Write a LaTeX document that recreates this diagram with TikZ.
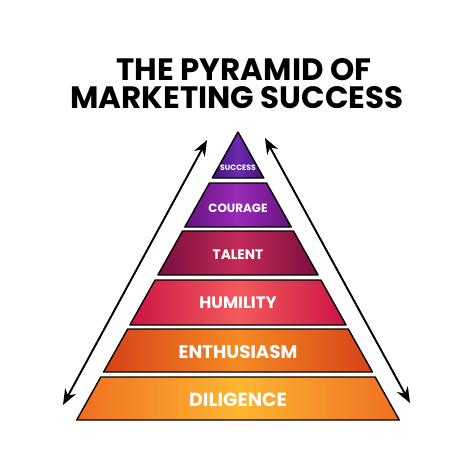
\documentclass[tikz,border=0pt]{standalone}
\usepackage{fontspec}
\setmainfont{Poppins}
\usetikzlibrary{arrows.meta,calc}
\definecolor{successout}{HTML}{3E1478}
\definecolor{successin}{HTML}{6C2AAE}
\definecolor{courageout}{HTML}{66127E}
\definecolor{couragein}{HTML}{9A2AB8}
\definecolor{talentout}{HTML}{7A0E3E}
\definecolor{talentin}{HTML}{C42A58}
\definecolor{humilityout}{HTML}{CC1446}
\definecolor{humilityin}{HTML}{F25A5C}
\definecolor{enthusiasmout}{HTML}{D6421A}
\definecolor{enthusiasmin}{HTML}{F58A22}
\definecolor{diligenceout}{HTML}{EF6E22}
\definecolor{diligencein}{HTML}{FDB630}
\tikzset{
  layer/.style={draw=black,line width=0.8pt,line join=round},
  layerlabel/.style={text=white,inner sep=0pt},
  titletext/.style={font=\bfseries\fontsize{17.6}{17.6}\selectfont,inner sep=0pt},
  pyrarrow/.style={line width=1.1pt,{Stealth[length=9pt,width=7pt]}-{Stealth[length=9pt,width=7pt]}}
}
\begin{document}
\begin{tikzpicture}[x=0.02cm,y=-0.02cm]
\useasboundingbox (0,0) rectangle (474,474);
\def\slope{0.56}
\node[titletext] (title1) at (244,70) {THE PYRAMID OF};
\node[titletext] (title2) at (237,98) {MARKETING SUCCESS};
% layers, top to bottom
\foreach \ytop/\ybot/\nm/\lbl/\fs/\ly in {132/178/success/SUCCESS/4.4/168,183/227/courage/COURAGE/6.8/208,231/275/talent/TALENT/7.8/255,280/325/humility/HUMILITY/9.4/303,329/372/enthusiasm/ENTHUSIASM/10.4/352,377/420/diligence/DILIGENCE/10.8/400} {
  \pgfmathsetmacro\wt{\slope*(\ytop-132)}
  \pgfmathsetmacro\wb{\slope*(\ybot-132)}
  \shade[left color=\nm out,right color=\nm out,middle color=\nm in]
    (238-\wt,\ytop) -- (238+\wt,\ytop) -- (238+\wb,\ybot) -- (238-\wb,\ybot) -- cycle;
  \draw[layer] (238-\wt,\ytop) -- (238+\wt,\ytop) -- (238+\wb,\ybot) -- (238-\wb,\ybot) -- cycle;
  \node[layerlabel,font=\bfseries\fontsize{\fs}{\fs}\selectfont] (\nm) at (238,\ly) {\lbl};
}
\coordinate (lt) at (207,140);
\coordinate (lb) at (63,405);
\coordinate (rt) at (265,138);
\coordinate (rb) at (410,403);
\draw[pyrarrow] (lb) -- (lt);
\draw[pyrarrow] (rt) -- (rb);
\end{tikzpicture}
\end{document}
